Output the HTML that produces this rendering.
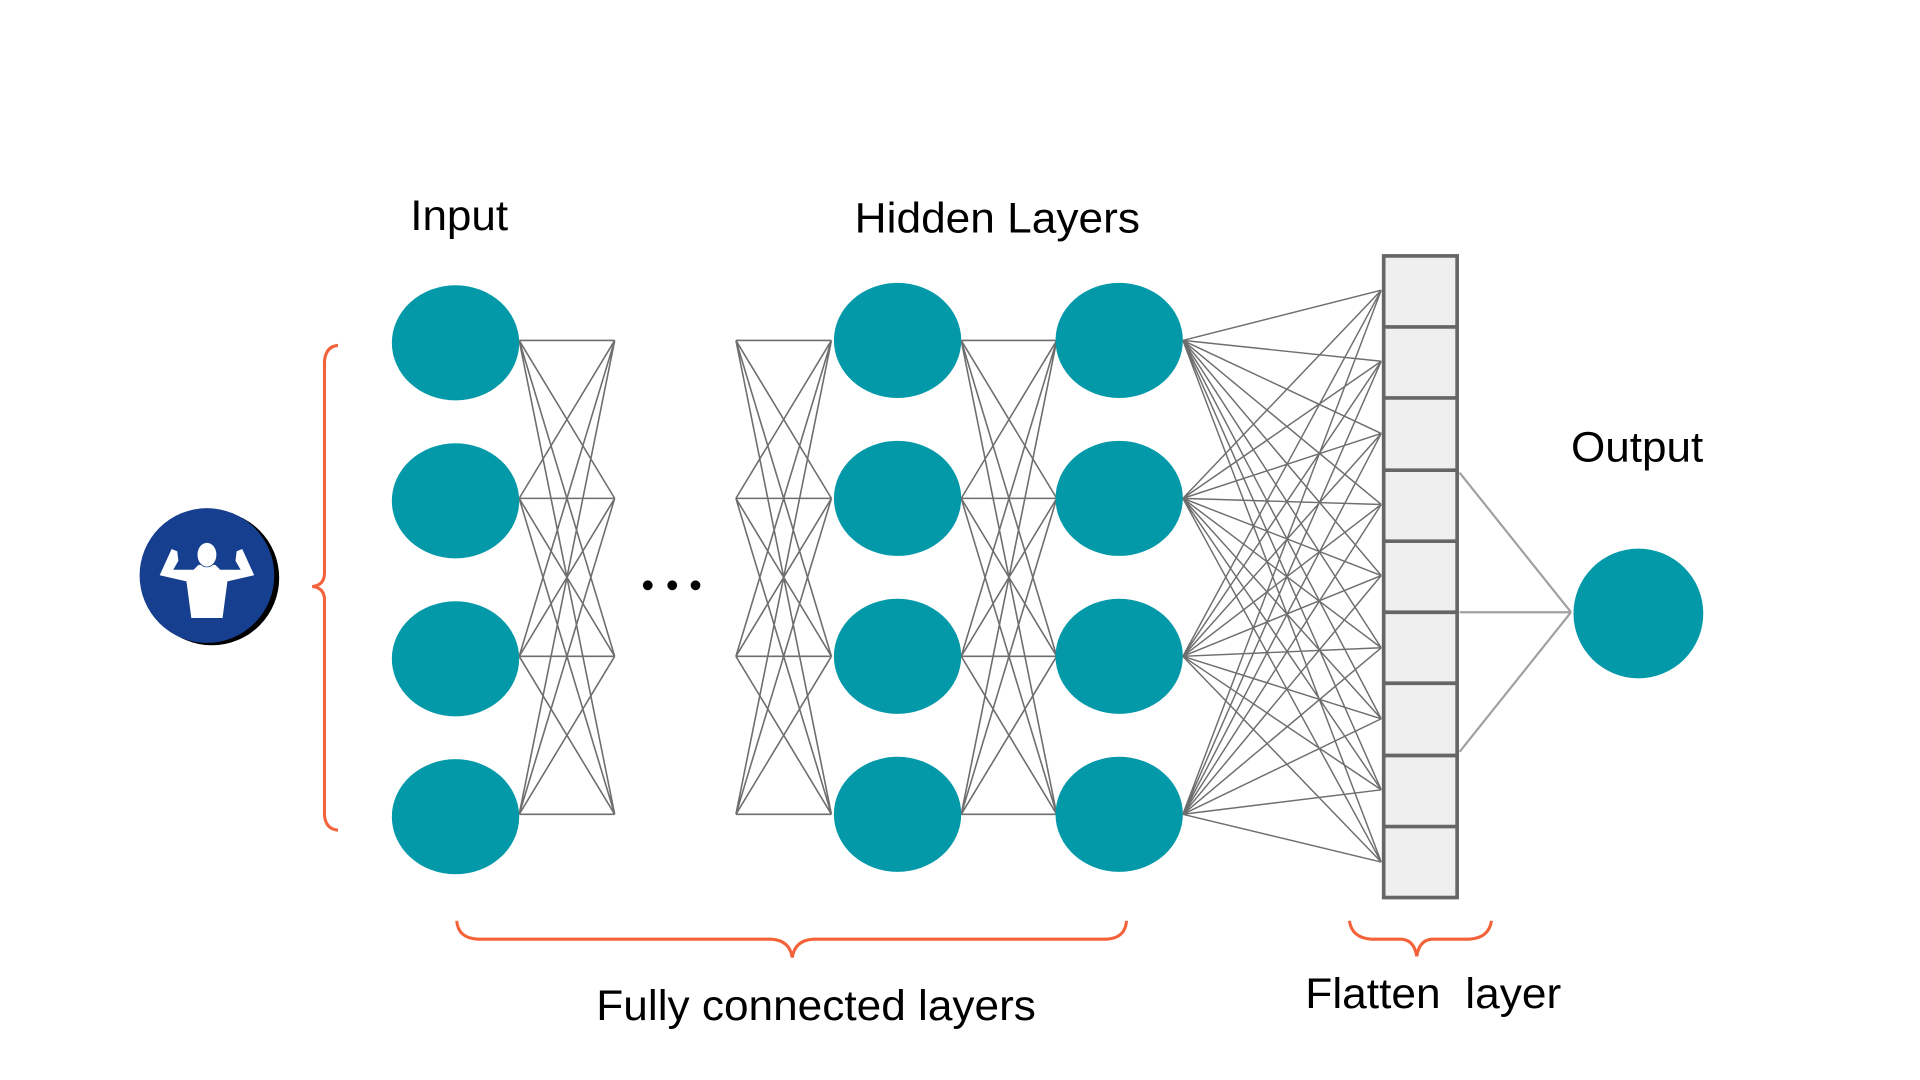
<!DOCTYPE html>
<html><head><meta charset="utf-8"><style>
html,body{margin:0;padding:0;background:#fff;}
svg{display:block;}
text{font-family:"Liberation Sans",sans-serif;fill:#000;}
</style></head><body>
<svg width="1920" height="1080" viewBox="0 0 1568 882" xmlns="http://www.w3.org/2000/svg">
<defs>
<path id="blk" fill="none" stroke="#6e6e6e" stroke-width="1.3" d="M0 278L78 278M0 278L78 407M0 278L78 536M0 278L78 665M0 407L78 278M0 407L78 407M0 407L78 536M0 407L78 665M0 536L78 278M0 536L78 407M0 536L78 536M0 536L78 665M0 665L78 278M0 665L78 407M0 665L78 536M0 665L78 665"/>
</defs>
<use href="#blk" transform="translate(424,0)"/>
<use href="#blk" transform="translate(601,0)"/>
<use href="#blk" transform="translate(785,0)"/>
<path fill="none" stroke="#6e6e6e" stroke-width="1.2" d="
M966 278L1128 237M966 278L1128 295M966 278L1128 354M966 278L1128 412M966 278L1128 470M966 278L1128 529M966 278L1128 587M966 278L1128 645M966 278L1128 704
M966 407L1128 237M966 407L1128 295M966 407L1128 354M966 407L1128 412M966 407L1128 470M966 407L1128 529M966 407L1128 587M966 407L1128 645M966 407L1128 704
M966 536L1128 237M966 536L1128 295M966 536L1128 354M966 536L1128 412M966 536L1128 470M966 536L1128 529M966 536L1128 587M966 536L1128 645M966 536L1128 704
M966 665L1128 237M966 665L1128 295M966 665L1128 354M966 665L1128 412M966 665L1128 470M966 665L1128 529M966 665L1128 587M966 665L1128 645M966 665L1128 704"/>
<path fill="none" stroke="#a0a0a0" stroke-width="1.8" d="M1192 386L1283 500M1192 500L1283 500M1192 614L1283 500"/>
<g fill="#0399a8">
<ellipse cx="372" cy="280" rx="52" ry="47"/><ellipse cx="372" cy="409" rx="52" ry="47"/><ellipse cx="372" cy="538" rx="52" ry="47"/><ellipse cx="372" cy="667" rx="52" ry="47"/>
<ellipse cx="733" cy="278" rx="52" ry="47"/><ellipse cx="733" cy="407" rx="52" ry="47"/><ellipse cx="733" cy="536" rx="52" ry="47"/><ellipse cx="733" cy="665" rx="52" ry="47"/>
<ellipse cx="914" cy="278" rx="52" ry="47"/><ellipse cx="914" cy="407" rx="52" ry="47"/><ellipse cx="914" cy="536" rx="52" ry="47"/><ellipse cx="914" cy="665" rx="52" ry="47"/>
<ellipse cx="1338" cy="501" rx="53" ry="53"/>
</g>
<g stroke="#666" stroke-width="3" fill="#efefef">
<rect x="1130" y="209" width="60" height="524"/>
<path fill="none" d="M1130 267H1190M1130 325H1190M1130 384H1190M1130 442H1190M1130 500H1190M1130 558H1190M1130 617H1190M1130 675H1190"/>
</g>
<g fill="#000"><circle cx="529" cy="478" r="4"/><circle cx="549" cy="478" r="4"/><circle cx="568" cy="478" r="4"/></g>
<g fill="none" stroke="#f4623a" stroke-width="2.5">
<path d="M276 282Q266 283 265 295L265 468Q265 478 255 479Q265 480 265 490L265 666Q266 677 276 678"/>
<path d="M373 752Q374 766 390 767L630 767Q645 768 647 782Q649 768 664 767L904 767Q919 766 920 752"/>
<path d="M1102 752Q1104 766 1120 767L1145 767Q1155 768 1157 781Q1159 768 1169 767L1200 767Q1216 766 1218 752"/>
</g>
<g>
<circle cx="173" cy="472" r="55" fill="#000"/>
<circle cx="169" cy="470" r="55" fill="#173f8f"/>
<g fill="#fff" stroke="#173f8f" stroke-width="0.6">
<path d="M152 475L156 505L182 505L186 475L208 470L198 448L193 450L192 458L196 465L180 465L176 461L162 461L158 465L142 465L146 458L145 450L140 448L130 470Z"/>
<ellipse cx="169" cy="453" rx="8" ry="10"/>
</g>
</g>
<text x="335" y="188" font-size="35" textLength="80" lengthAdjust="spacingAndGlyphs">Input</text>
<text x="698" y="190" font-size="35" textLength="233" lengthAdjust="spacingAndGlyphs">Hidden Layers</text>
<text x="1283" y="377" font-size="35" textLength="108" lengthAdjust="spacingAndGlyphs">Output</text>
<text x="487" y="833" font-size="35" textLength="359" lengthAdjust="spacingAndGlyphs">Fully connected layers</text>
<text x="1066" y="823" font-size="35" xml:space="preserve" textLength="209" lengthAdjust="spacingAndGlyphs">Flatten  layer</text>
</svg>
</body></html>
